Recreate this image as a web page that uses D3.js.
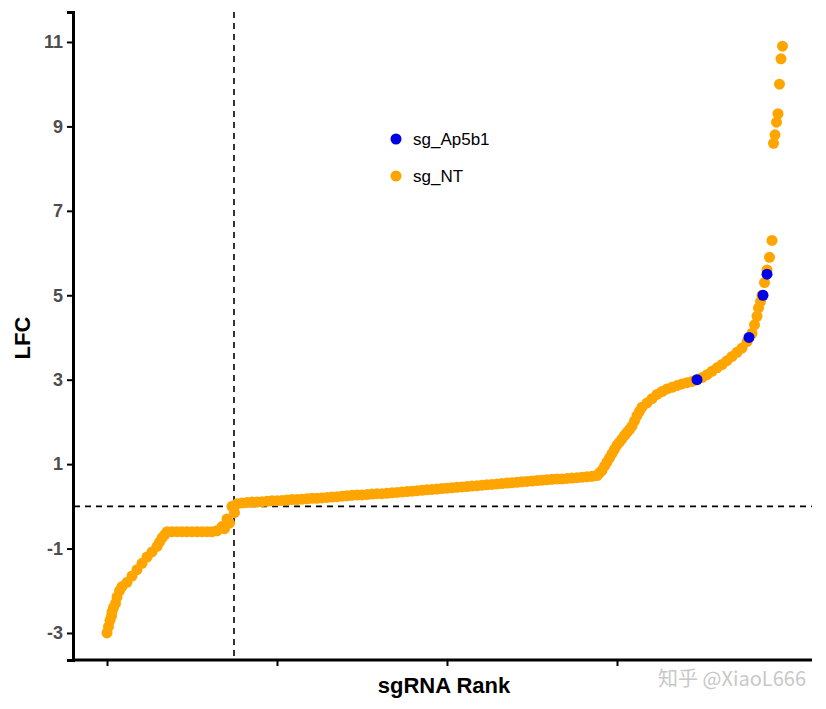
<!DOCTYPE html>
<html><head><meta charset="utf-8">
<script src="https://cdn.jsdelivr.net/npm/d3@7"></script>
<style>body{margin:0;background:#fff}</style></head>
<body><svg id="c" width="826" height="709"></svg>
<script>
// LFC values per rank (sorted)
const lfcNT = [-3.0,-2.5,-2.15,-1.9,-1.8,-1.65,-1.5,-1.35,-1.2,-1.08,-0.95,-0.75,
 -0.6,-0.6,-0.6,-0.6,-0.6,-0.6,-0.6,-0.6,-0.6,-0.6,-0.58,-0.48,-0.3,0.0,0.06,
 0.08,0.09,0.10,0.10,0.11,0.12,0.13,0.13,0.14,0.15,
 0.16,0.16,0.17,0.18,0.19,0.19,0.20,0.21,0.22,0.23,
 0.24,0.25,0.26,0.27,0.27,0.28,0.29,0.30,0.30,0.31,
 0.32,0.33,0.34,0.35,0.36,0.37,0.38,0.39,0.40,0.41,
 0.42,0.43,0.44,0.45,0.46,0.47,0.48,0.49,0.50,0.51,
 0.52,0.53,0.54,0.55,0.56,0.57,0.58,0.59,0.60,0.61,
 0.62,0.63,0.64,0.65,0.65,0.66,0.67,0.68,0.69,0.70,
 0.71,0.73,0.85,1.05,1.25,1.45,1.6,1.75,1.9,2.15,2.35,2.45,2.55,2.65,2.72,2.78,
 2.82,2.86,2.9,2.93,2.96,3.0,3.05,3.12,3.2,3.28,3.36,3.45,3.55,3.65,3.75,3.9,
 4.1,4.5,5.0,5.6,6.3];
// extra steep-section points and top outliers
const tailRanks = [0.3,0.6,0.9,1.3,1.7,2.5,10.5,11.5,23.5,24.5,25.5,98.5,99.5,100.5,101.5,102.5,103.5,104.5,105.5,106.5,
  129.5,130.3,130.7,131.5,132.5,133.3,133.6,133.9,134.2,134.5,134.8,135.1];
const tailLFC   = [-2.85,-2.7,-2.6,-2.4,-2.3,-2.0,-0.85,-0.68,-0.53,-0.4,-0.15,0.79,0.95,1.15,1.35,1.52,1.68,1.82,2.02,2.25,
  4.3,4.7,4.85,5.3,5.9,8.6,8.8,9.1,9.3,10.0,10.6,10.9];
const apRanks = [118,128.4,131.2,132];
const apLFC   = [3.0,4.0,5.0,5.5];
const yTicks = [-3,-1,1,3,5,7,9,11];
const xTicks = [0,34,68,102];
const legendLabels = ["sg_Ap5b1","sg_NT"];
const colors = {ap:"#0000e6", nt:"#ffa500"};

const svg = d3.select("#c");
const x = d3.scaleLinear().domain([0,135]).range([107,782]);
const y = d3.scaleLinear().domain([-3.64,11.71]).range([660,12]);

svg.append("g").attr("transform","translate(73,0)")
  .call(d3.axisLeft(y).tickValues(yTicks).tickFormat(d=>String(d)).tickSize(6).tickPadding(4))
  .call(g=>{g.select(".domain").attr("stroke","#000").attr("stroke-width",3);
    g.selectAll(".tick line").attr("stroke","#000").attr("stroke-width",2);
    g.selectAll("text").attr("font-family","Liberation Sans, Arial").attr("font-weight","bold").attr("font-size",18).attr("fill","#4d4d4d");});
svg.append("g").attr("transform","translate(0,660)")
  .call(d3.axisBottom(x).tickValues(xTicks).tickFormat("").tickSize(6).tickSizeOuter(0))
  .call(g=>{g.select(".domain").attr("stroke","#000").attr("stroke-width",3).attr("d","M72,0H812");
    g.selectAll(".tick line").attr("stroke","#000").attr("stroke-width",2);});

svg.append("line").attr("x1",74).attr("x2",812).attr("y1",y(0)).attr("y2",y(0))
  .attr("stroke","#000").attr("stroke-width",1.6).attr("stroke-dasharray","6,5");
svg.append("line").attr("x1",234).attr("x2",234).attr("y1",12).attr("y2",659)
  .attr("stroke","#000").attr("stroke-width",1.6).attr("stroke-dasharray","6,5");

const nt = lfcNT.map((v,i)=>[i,v]).concat(tailRanks.map((r,i)=>[r,tailLFC[i]]));
svg.append("g").selectAll("circle").data(nt).join("circle")
  .attr("cx",d=>x(d[0])).attr("cy",d=>y(d[1])).attr("r",5.5).attr("fill",colors.nt);
svg.append("g").selectAll("circle").data(apRanks.map((r,i)=>[r,apLFC[i]])).join("circle")
  .attr("cx",d=>x(d[0])).attr("cy",d=>y(d[1])).attr("r",5.5).attr("fill",colors.ap);

const lg = svg.append("g").attr("font-family","Liberation Sans, Arial").attr("font-size",17);
[colors.ap,colors.nt].forEach((c,i)=>{
  lg.append("circle").attr("cx",396).attr("cy",139+i*37).attr("r",5.5).attr("fill",c);
  lg.append("text").attr("x",413).attr("y",145+i*37).text(legendLabels[i]);
});
svg.append("text").attr("x",444).attr("y",693).attr("text-anchor","middle")
  .attr("font-family","Liberation Sans, Arial").attr("font-weight","bold").attr("font-size",22).text("sgRNA Rank");
svg.append("text").attr("transform","translate(30,338) rotate(-90)").attr("text-anchor","middle")
  .attr("font-family","Liberation Sans, Arial").attr("font-weight","bold").attr("font-size",22).text("LFC");
svg.append("text").attr("x",806).attr("y",686).attr("text-anchor","end")
  .attr("font-family","Noto Sans CJK SC").attr("font-size",20).attr("fill","#c8c8c8").text("知乎 @XiaoL666");
</script></body></html>
